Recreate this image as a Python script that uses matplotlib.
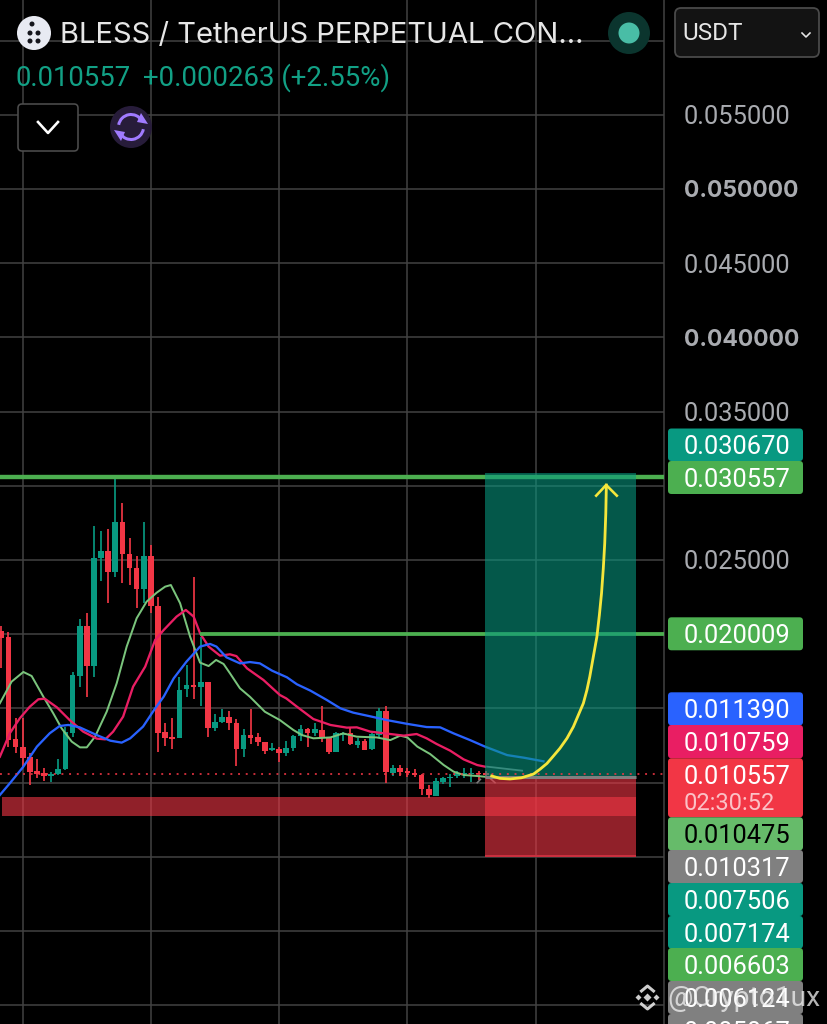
import matplotlib
matplotlib.use("Agg")
import matplotlib.pyplot as plt
from matplotlib.patches import FancyBboxPatch, Circle, Arc, Polygon, Rectangle

plt.rcParams['font.family'] = ['Roboto', 'DejaVu Sans']

# ---------- data ----------
opens = [.02021,.01979,.01291,.01242,.01170,.01076,.01067,.01042,.01058,.01089,.01336,.01720,.02053,.01788,.02515,.02560,.02421,.02758,.02540,.02448,.02302,.02524,.02190,.01338,.01305,.01298,.01628,.01657,.01642,.01680,.01370,.01406,.01442,.01401,.01224,.01320,.01305,
         .01271,.01219,.01224,.01197,.01233,.01316,.01361,.01331,.01354,.01307,.01206,.01320,.01331,.01253,.01280,.01224,.01320,.01482,.01066,.01096,.01080,.01062,.01051,.00954,.00911,.01001,.01033,.01044,.01055,.01055,.01066,.01066]
highs = [.02055,.02017,.01433,.01433,.01197,.01156,.01096,.01071,.01161,.01377,.01743,.02100,.02140,.02731,.02697,.02706,.03050,.02886,.02646,.02527,.02753,.02598,.02248,.01399,.01437,.01709,.01792,.02383,.01979,.01680,.01462,.01498,.01484,.01426,.01359,.01496,.01332,
         .01275,.01264,.01242,.01282,.01320,.01388,.01370,.01399,.01518,.01309,.01340,.01343,.01365,.01298,.01291,.01336,.01500,.01516,.01118,.01118,.01096,.01093,.01055,.00983,.01028,.01039,.01057,.01080,.01100,.01096,.01080,.01080]
lows = [.01770,.01242,.01197,.01107,.00984,.01028,.01013,.01006,.01051,.01085,.01309,.01646,.01579,.01709,.02360,.02208,.02383,.02347,.02331,.02178,.02208,.02140,.01208,.01246,.01228,.01298,.01579,.01561,.01518,.01305,.01350,.01404,.01354,.01112,.01174,.01260,.01246,
        .01192,.01215,.01140,.01181,.01215,.01282,.01242,.01313,.01275,.01190,.01203,.01282,.01253,.01230,.01219,.01219,.01309,.00999,.01046,.01046,.01035,.01035,.00916,.00893,.00911,.00990,.00972,.01028,.01033,.01001,.01017,.01033]
closes = [.01976,.01287,.01242,.01168,.01073,.01058,.01044,.01060,.01089,.01338,.01725,.02053,.01788,.02515,.02560,.02419,.02758,.02540,.02443,.02302,.02524,.02190,.01336,.01298,.01296,.01624,.01657,.01642,.01680,.01370,.01406,.01442,.01401,.01224,.01320,.01303,.01271,
          .01215,.01230,.01201,.01235,.01316,.01358,.01331,.01358,.01309,.01203,.01331,.01336,.01257,.01277,.01221,.01325,.01482,.01071,.01096,.01071,.01066,.01048,.00956,.00914,.01008,.01030,.01039,.01062,.01064,.01064,.01055,.01048]

ma_green_x = [-0.2,1.45,3.1,4.26,5.9,7.3,8.47,9.88,11.05,12,13.16,14.8,16.2,17.6,19,20.4,21.8,23,23.8,25.1,26.5,27.9,29.1,30.15,31.2,32.1,33.5,34.9,37,39.1,41,42.2,43.8,46.2,48,49.9,52.7,54.6,56,57,58.4,60.2,62.1,63.5,64.9,66.8,67.9]
ma_green_y = [.01534,.01680,.01745,.01718,.01579,.01466,.01365,.01276,.01237,.01237,.01309,.01478,.01669,.01916,.02107,.02219,.02279,.02320,.02331,.02208,.01983,.01808,.01785,.01826,.01799,.01736,.01635,.01578,.01477,.01421,.01354,.01320,.01298,.01304,.01331,.01309,.01304,.01286,.01316,.01304,.01242,.01192,.01118,.01073,.01051,.01044,.01039]
ma_red_x = [-0.2,1.2,2.6,4,5.2,6.1,7.8,9.6,11.5,13.4,14.6,15.7,17.1,18.5,20.2,21.6,22.8,24.6,25.9,27,27.9,29.1,30.7,32.1,33,34.5,36.8,39.1,40,41.5,43.8,46.2,48.5,49.9,51.8,54.6,56.5,58.3,59.7,61.1,63,64.9,66.8,67.9]
ma_red_y = [.01174,.01332,.01433,.01511,.01561,.01565,.01507,.01421,.01343,.01296,.01291,.01343,.01444,.01646,.01781,.01961,.02028,.02118,.02163,.02118,.02006,.01916,.01855,.01864,.01852,.01769,.01691,.01590,.01567,.01511,.01428,.01388,.01370,.01372,.01343,.01327,.01316,.01327,.01298,.01260,.01215,.01156,.01118,.01107]
ma_blue_x = [-0.2,1.2,3.1,5,6.8,8.2,9.4,11,13.4,15.3,16.9,18.1,19.9,21.6,22.8,24.2,26,27.9,29.3,30.2,31.6,33.5,34.9,36.3,38,40.1,41.5,43.4,45.7,47.6,49.4,51.8,54.1,56.9,59.7,61.6,63.5,65.8,67.9,71,73.4,76.1]
ma_blue_y = [.00916,.00995,.01107,.01242,.01332,.01381,.01388,.01372,.01320,.01282,.01269,.01298,.01377,.01500,.01579,.01702,.01815,.01916,.01934,.01916,.01844,.01803,.01812,.01803,.01754,.01709,.01662,.01619,.01556,.01500,.01471,.01446,.01421,.01396,.01374,.01372,.01331,.01286,.01242,.01185,.01167,.01143]
ma_gray_x = [68.2,73.1]
ma_gray_y = [.01107,.01080]
chev1_x, chev1_y = [66.8,67.25], [.00999,.01021]
chev2_x, chev2_y = [68.5,69.3], [.01033,.00999]

curve_x = [68.84,70.0,71.4,73.0,74.7,75.6,76.6,77.5,78.4,79.4,80.3,81.0,81.7,82.2,82.6,83.1,83.6,83.95,84.25,84.5,84.7,84.85,84.93]
curve_y = [.01044,.01028,.01024,.01032,.01057,.01089,.01129,.01179,.01230,.01298,.01376,.01455,.01534,.01623,.01713,.01848,.01982,.02129,.02275,.02443,.02612,.02814,.03005]
head_x = [83.5,84.9,86.4]
head_y = [.02933,.03005,.02933]

last_price = 0.010557
res_high = 0.030557
res_mid = 0.020009
box_x = (67.85, 89.1)
box_top, box_entry, box_bottom = .03084, .01039, .00505
band_x = (0.1, 89.1)
band_top, band_bottom = .00904, .00776

price_ticks = [-.005,0,.005,.010,.015,.020,.025,.030,.035,.040,.045,.050,.055,.060]
price_tick_labels = ['','','','','','','0.025000','','0.035000','0.040000','0.045000','0.050000','0.055000','']
bold_ticks = ['0.040000','0.050000']
time_ticks = [3,21,39,57,75]

badge_text = ['0.030670','0.030557','0.020009','0.011390','0.010759','0.010557','0.010475','0.010317','0.007506','0.007174','0.006603','0.006124','0.005067']
badge_color = ['#089981','#4caf50','#4caf50','#2962ff','#e91e63','#f23645','#66bb6a','#808080','#089981','#089981','#4caf50','#808080','#808080']
badge_ink = ['white']*6 + ['black'] + ['white']*6
badge_top = [428.5,461,617.3,692.3,725,758.3,817.3,850,883,916,948,981,1014]
badge_h = [32.5,33,33,33,33.3,59,33,33,33,32.5,33,33,33]

UP, DOWN = '#089981', '#f23645'
px = 0.72

# ---------- figure ----------
fig = plt.figure(figsize=(8.28, 10.24), dpi=100, facecolor='black')
ax = fig.add_axes([0, 0, 664/828, 1], facecolor='black')
ax.set_xlim(-0.18, 93.02)
ax.set_ylim(-0.00627, 0.06273)
ax.set_xticks(time_ticks)
ax.set_xticklabels([''] * len(time_ticks))
ax.set_yticks(price_ticks)
ax.set_yticklabels(price_tick_labels, color='#a9abb0', fontsize=18.4)
ax.yaxis.tick_right()
ax.tick_params(length=0, pad=14.4)
for lab in ax.get_yticklabels():
    if lab.get_text() in bold_ticks:
        lab.set_fontweight('bold')
        lab.set_family('Inter')
        lab.set_fontsize(16.5)
ax.grid(True, color='#434343', lw=1.5*px, zorder=0)
ax.set_axisbelow(True)
for s in ['top', 'left', 'bottom']:
    ax.spines[s].set_visible(False)
ax.spines['right'].set_color('#434343')
ax.spines['right'].set_linewidth(1.5*px)

idx = list(range(len(opens)))
cols = [UP if c >= o else DOWN for o, c in zip(opens, closes)]
ax.vlines(idx, lows, highs, colors=cols, lw=1.7*px, zorder=2)
ax.bar(idx, [abs(c-o) for o, c in zip(opens, closes)],
       bottom=[min(o, c) for o, c in zip(opens, closes)],
       width=0.8, color=cols, lw=0, zorder=2.5)

ax.plot(ma_green_x, ma_green_y, color='#7ac47c', lw=2*px, zorder=3)
ax.plot(ma_red_x, ma_red_y, color='#e91e63', lw=2.3*px, zorder=3)
ax.plot(ma_blue_x, ma_blue_y, color='#2962ff', lw=2.3*px, zorder=3)
ax.plot(ma_gray_x, ma_gray_y, color='#7a7a7a', lw=1.8*px, zorder=3)
ax.plot(chev1_x, chev1_y, color='#7a7a7a', lw=1.6*px, zorder=3)
ax.plot(chev2_x, chev2_y, color='#7a7a7a', lw=1.6*px, zorder=3)

ax.plot([-0.18, 93.02], [res_high]*2, color='#4caf50', lw=4.4*px, zorder=3.5, solid_capstyle='butt')
ax.plot([27.9, 93.02], [res_mid]*2, color='#4caf50', lw=3.8*px, zorder=3.5, solid_capstyle='butt')

ax.add_patch(Rectangle((box_x[0], box_entry), box_x[1]-box_x[0], box_top-box_entry, fc=UP, alpha=0.58, lw=0, zorder=4))
ax.add_patch(Rectangle((box_x[0], box_bottom), box_x[1]-box_x[0], box_entry-box_bottom, fc=DOWN, alpha=0.6, lw=0, zorder=4))
ax.add_patch(Rectangle((band_x[0], band_bottom), band_x[1]-band_x[0], band_top-band_bottom, fc=DOWN, alpha=0.6, lw=0, zorder=4))
ax.plot(box_x, [box_bottom]*2, color='#c9303f', lw=2*px, zorder=4.2, solid_capstyle='butt')
ax.plot(box_x, [box_entry]*2, color='#808080', lw=3*px, zorder=4.5, solid_capstyle='butt')
ax.plot([-0.18, 93.02], [last_price]*2, color=DOWN, lw=1.6*px, zorder=5, dashes=(1.2, 3.6))

ax.plot(curve_x, curve_y, color='#f5e63b', lw=2.8*px, zorder=6, solid_joinstyle='round')
ax.plot(head_x, head_y, color='#f5e63b', lw=2.6*px, zorder=6)

# ---------- pixel overlay for the badges and the app header ----------
ui = fig.add_axes([0, 0, 1, 1], facecolor='none')
ui.set_xlim(0, 828)
ui.set_ylim(1024, 0)
ui.axis('off')

for t, c, ink, top, h in zip(badge_text, badge_color, badge_ink, badge_top, badge_h):
    ui.add_patch(FancyBboxPatch((668, top), 135, h, boxstyle='round,pad=0,rounding_size=3.5', fc=c, ec='none', zorder=2))
    yc = top + 19
    ui.text(684, yc, t, color=ink, fontsize=18.4, ha='left', va='center', zorder=3, clip_on=True)
ui.text(684, 803, '02:30:52', color='#fbc1c6', fontsize=17, ha='left', va='center', zorder=3)

# title row
ui.add_patch(Circle((34, 33), 17, fc='#e8eaf2', ec='none'))
for dx, dy in [(32, 24), (30, 33), (38, 33), (30, 41), (38, 41)]:
    ui.add_patch(Circle((dx, dy), 2.5, fc='#15151c', ec='none'))
ui.text(60, 35, 'BLESS / TetherUS PERPETUAL CON...', color='#e6e6e6', fontsize=21, family='Inter', ha='left', va='center')
ui.text(16, 78, '0.010557', color='#12a085', fontsize=19.8, ha='left', va='center')
ui.text(143, 78, '+0.000263 (+2.55%)', color='#12a085', fontsize=19.9, ha='left', va='center')
ui.add_patch(Circle((629, 33), 21, fc='#0b352e', ec='none'))
ui.add_patch(Circle((629, 33), 10.5, fc='#49bda6', ec='none'))

# dropdown box
ui.add_patch(FancyBboxPatch((18, 104), 60, 47, boxstyle='round,pad=0,rounding_size=4', fc='black', ec='#4d4d4d', lw=1.6*px))
ui.plot([38, 48, 58], [122, 133, 122], color='white', lw=2.6*px)

# refresh icon
ui.add_patch(Circle((131, 127), 21, fc='#271c3a', ec='none'))
ui.add_patch(Arc((131, 127), 25, 25, theta1=190, theta2=330, color='#a07bff', lw=3*px))
ui.add_patch(Arc((131, 127), 25, 25, theta1=10, theta2=150, color='#a07bff', lw=3*px))
ui.add_patch(Polygon([(141, 113), (148, 124), (137, 122)], fc='#a07bff', ec='none'))
ui.add_patch(Polygon([(121, 141), (114, 130), (125, 132)], fc='#a07bff', ec='none'))

# currency selector
ui.add_patch(FancyBboxPatch((675, 8), 144, 49, boxstyle='round,pad=0,rounding_size=6', fc='#131313', ec='#4a4a4a', lw=1.8*px, zorder=2))
ui.text(682, 33, 'USDT', color='#e6e6e6', fontsize=17.5, ha='left', va='center', zorder=3)
ui.plot([802, 806, 810], [33, 37, 33], color='#e6e6e6', lw=1.6*px, zorder=3)

# watermark
wm = '#f2f2f2'
ui.add_patch(Polygon([(647.5, 993.5), (651.5, 997.5), (647.5, 1001.5), (643.5, 997.5)], fc=wm, alpha=0.85, ec='none', zorder=4))
ui.add_patch(Polygon([(638.5, 994.5), (641.5, 997.5), (638.5, 1000.5), (635.5, 997.5)], fc=wm, alpha=0.85, ec='none', zorder=4))
ui.add_patch(Polygon([(656.5, 994.5), (659.5, 997.5), (656.5, 1000.5), (653.5, 997.5)], fc=wm, alpha=0.85, ec='none', zorder=4))
ui.plot([641.5, 647.5, 653.5], [991, 986, 991], color=wm, alpha=0.85, lw=3*px, zorder=4)
ui.plot([641.5, 647.5, 653.5], [1004, 1009, 1004], color=wm, alpha=0.85, lw=3*px, zorder=4)
ui.text(667, 999, '@Crypto1ux', color=wm, alpha=0.75, fontsize=20.3, ha='left', va='center', zorder=4)

fig.savefig('out.png', dpi=100, facecolor='black')
